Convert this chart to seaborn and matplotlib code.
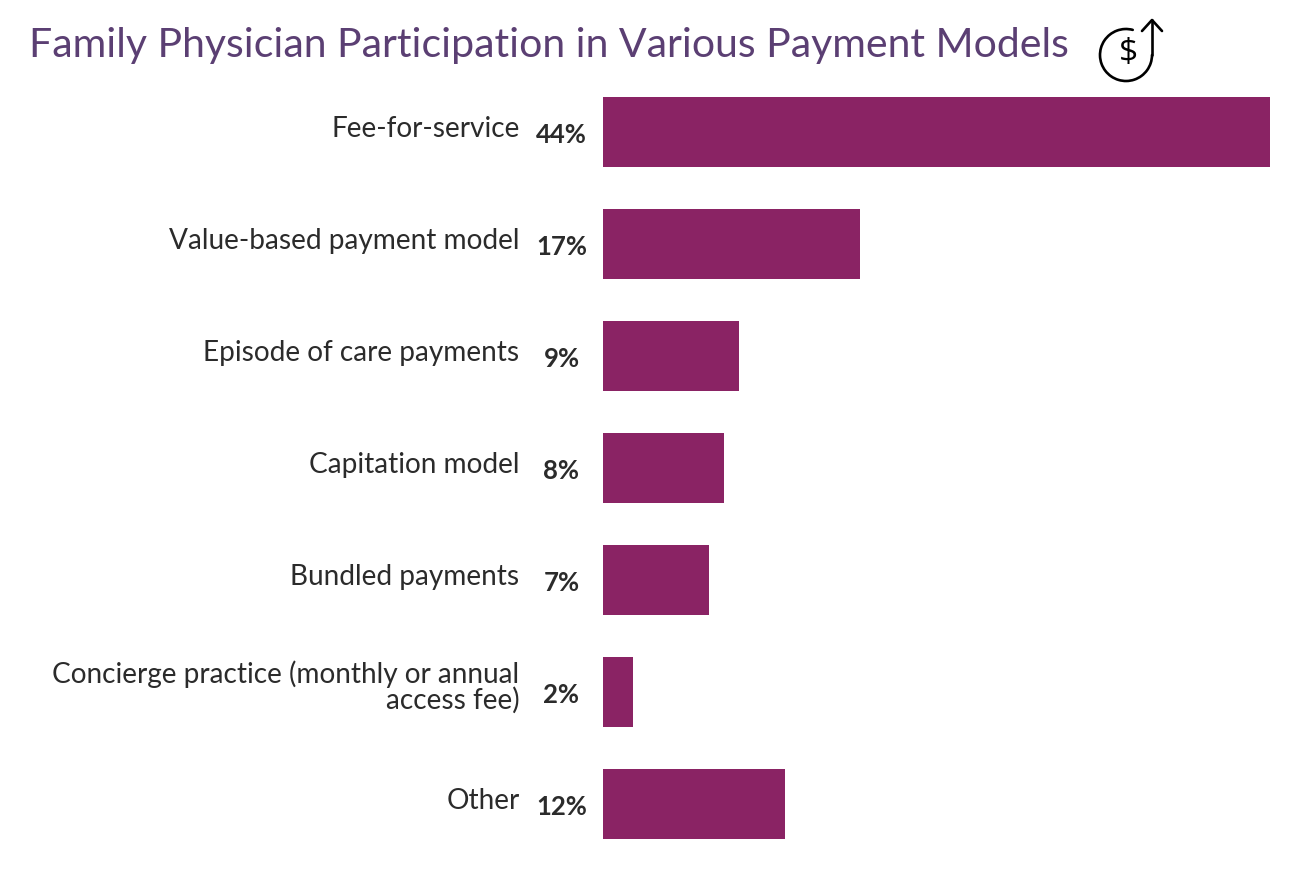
import matplotlib
matplotlib.use("Agg")
import matplotlib.pyplot as plt
import pandas as pd
import seaborn as sns
from matplotlib.patches import Arc

categories = ["Fee-for-service", "Value-based payment model", "Episode of care payments",
              "Capitation model", "Bundled payments",
              "Concierge practice (monthly or annual\naccess fee)", "Other"]
values = [44, 17, 9, 8, 7, 2, 12]
title = "Family Physician Participation in Various Payment Models"

sns.set_theme(style="white")
plt.rcParams["font.family"] = ["Lato", "DejaVu Sans"]

W, H = 1290, 878
fig = plt.figure(figsize=(W / 100, H / 100), dpi=100, facecolor="white")
# axes span the bar region, in figure fractions
left, right, top, bottom = 602.5, 1270, 98, 840
ax = fig.add_axes([left / W, 1 - bottom / H, (right - left) / W, (bottom - top) / H])

df = pd.DataFrame({"category": categories, "value": values})
sns.barplot(data=df, x="value", y="category", color="#8a2364", saturation=1,
            width=0.625, linewidth=0, ax=ax)
ax.set_xlim(0, 44)
ax.set_ylim(6.3125, -0.3125)
ax.axis("off")

for i, (cat, val) in enumerate(zip(categories, values)):
    two_lines = "\n" in cat
    ax.annotate(cat, (0, i), xytext=(-83, 6 if two_lines else 4), textcoords="offset pixels",
                ha="right", va="center", fontsize=20.2, color="#2b2b2b", linespacing=0.93,
                annotation_clip=False)
    ax.annotate(f"{val}%", (0, i), xytext=(-41, -2), textcoords="offset pixels",
                ha="center", va="center", fontsize=18.5, fontweight="bold", color="#2b2b2b",
                annotation_clip=False)

fig.text(29 / W, 1 - 46 / H, title, fontsize=29.5, color="#5b3f73", ha="left", va="center")

# dollar-growth icon, drawn in figure pixel coordinates
icon = fig.add_axes([0, 0, 1, 1], facecolor="none")
icon.set_xlim(0, W)
icon.set_ylim(H, 0)
icon.axis("off")
icon.add_patch(Arc((1126, 56), 52, 52, theta1=0, theta2=285, color="black", lw=1.9,
                   capstyle="round"))
icon.plot([1152, 1152], [56, 21], color="black", lw=1.9, solid_capstyle="round")
icon.plot([1142, 1152, 1162], [32, 21, 32], color="black", lw=1.9, solid_capstyle="round",
          solid_joinstyle="round")
icon.text(1128, 54, "$", fontsize=24, ha="center", va="center", color="black",
          family="Open Sans")

fig.savefig("out.png", dpi=100)
